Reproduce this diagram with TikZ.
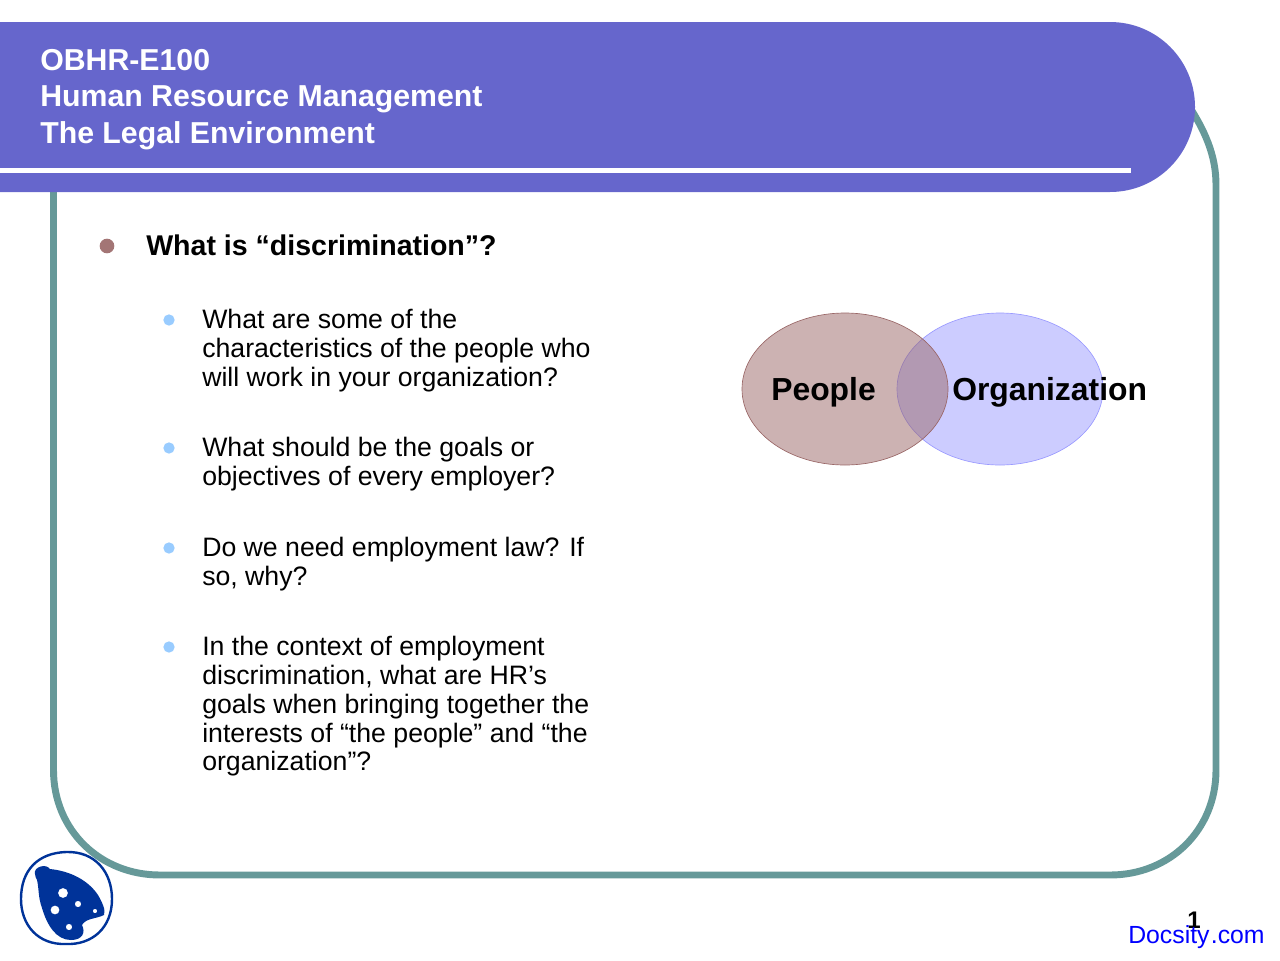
\documentclass[tikz,border=0pt]{standalone}
\usepackage{fontspec}
\setmainfont{Liberation Sans}
\usetikzlibrary{shapes.geometric}
\definecolor{hdr}{HTML}{6666CC}
\definecolor{teal1}{HTML}{669999}
\definecolor{bulA}{HTML}{996666}
\definecolor{bulB}{HTML}{99CCFF}
\definecolor{orgc}{HTML}{9999FF}
\definecolor{logoc}{HTML}{003399}
\tikzset{
  x=0.75pt,y=-0.75pt,
  title/.style={anchor=north west,inner sep=0pt,align=left,text=white,font=\fontsize{22.7}{27.4}\selectfont\bfseries},
  head/.style={anchor=north west,inner sep=0pt,align=left,font=\fontsize{21.4}{24}\selectfont\bfseries},
  body/.style={anchor=north west,inner sep=0pt,align=left,font=\fontsize{20}{21.6}\selectfont},
  bigdot/.style={circle,fill=bulA!90!white,draw=none,minimum size=11pt,inner sep=0pt},
  smalldot/.style={circle,fill=bulB,draw=none,minimum size=8.5pt,inner sep=0pt},
  venn/.style={ellipse,minimum width=154.5pt,minimum height=114pt,inner sep=0pt,line width=0.5pt},
  vlabel/.style={inner sep=0pt,font=\fontsize{23.9}{28}\selectfont\bfseries,anchor=base west},
}
\begin{document}
\begin{tikzpicture}
\useasboundingbox (0,0) rectangle (1280,960);
% frame
\draw[teal1,line width=5.2pt] (53.5,180) -- (53.5,770)
  .. controls (53.5,830) and (100,875) .. (160,875) -- (1110,875)
  .. controls (1170,875) and (1216,830) .. (1216,770) -- (1216,185)
  .. controls (1216,155) and (1205,130) .. (1185,100);
% header
\fill[hdr] (0,22) -- (1110,22) .. controls (1157,22) and (1195,60) .. (1195,107)
  .. controls (1195,154) and (1157,192) .. (1110,192) -- (0,192) -- cycle;
\fill[white] (0,168) rectangle (1131,173);
\node[title] (ttl) at (40,49) {OBHR-E100\\Human Resource Management\\The Legal Environment};
% bullets
\node[bigdot] (b0) at (107,246) {};
\node[head] (h0) at (146,235) {What is “discrimination”?};
\node[smalldot] (b1) at (169,320) {};
\node[body] (t1) at (202,309) {What are some of the\\characteristics of the people who\\will work in your organization?};
\node[smalldot] (b2) at (169,448) {};
\node[body] (t2) at (202,437) {What should be the goals or\\objectives of every employer?};
\node[smalldot] (b3) at (169,548) {};
\node[body] (t3) at (202,537) {Do we need employment law? If\\so, why?};
\node[smalldot] (b4) at (169,647) {};
\node[body] (t4) at (202,636) {In the context of employment\\discrimination, what are HR’s\\goals when bringing together the\\interests of “the people” and “the\\organization”?};
% venn
\node[venn,fill=orgc,fill opacity=0.5,draw=orgc] (org) at (1000,389) {};
\node[venn,fill=bulA,fill opacity=0.5,draw=bulA] (ppl) at (845,389) {};
\node[vlabel] (lp) at (771,400) {People};
\node[vlabel] (lo) at (952,400) {Organization};
% logo
\draw[logoc,line width=1.8pt] (66,852) .. controls (95,851) and (112,872) .. (112,899)
  .. controls (112,928) and (92,945) .. (66,944)
  .. controls (38,945) and (21,925) .. (21,899)
  .. controls (21,870) and (38,853) .. (66,852) -- cycle;
\fill[logoc,even odd rule] (35,874) .. controls (33,867) and (46,863) .. (50,869)
  .. controls (70,871) and (88,880) .. (98,895)
  .. controls (102,902) and (106,910) .. (104,915)
  .. controls (96,919) and (86,918) .. (82,925)
  .. controls (86,933) and (82,940) .. (71,940)
  .. controls (56,940) and (47,925) .. (42,908)
  .. controls (38,897) and (39,888) .. (37,880)
  .. controls (36,878) and (35,876) .. (35,874) -- cycle
  (63,893) circle[radius=5]
  (55,910) circle[radius=4.5]
  (78,904) circle[radius=3.2]
  (95,911) circle[radius=2.2]
  (69,927) circle[radius=3.2];
% page number & watermark
\node[inner sep=0pt,anchor=base,font=\fontsize{18}{20}\selectfont\bfseries] (pg) at (1194,928) {1};
\node[inner sep=0pt,anchor=base west,text=blue,font=\fontsize{18.6}{22}\selectfont] (ds) at (1128,943) {Docsity\kern1pt.com};
\end{tikzpicture}
\end{document}
